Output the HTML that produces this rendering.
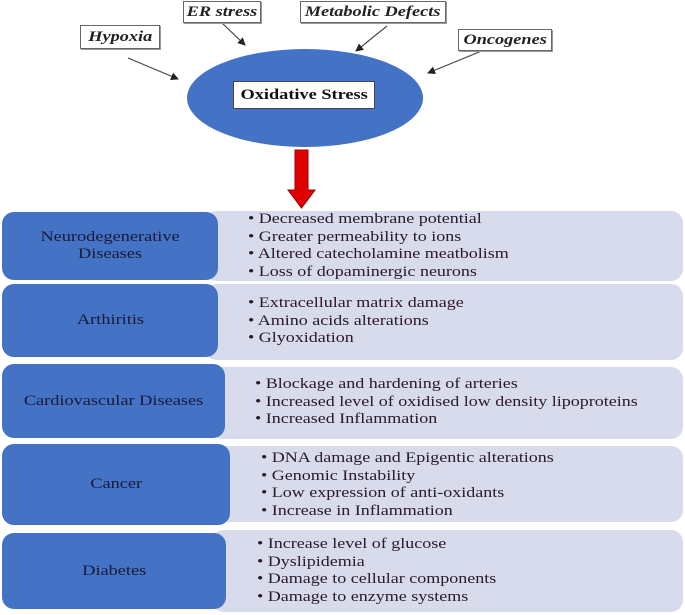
<!DOCTYPE html>
<html><head><style>
body{margin:0;width:685px;height:615px;background:#fff;position:relative;overflow:hidden;font-family:"Liberation Serif",serif;}
.a{position:absolute;}
.s{display:inline-block;transform:scaleX(1.22);transform-origin:center;}
.L{position:absolute;background:#4472C4;border-radius:12px;display:flex;align-items:center;justify-content:center;text-align:center;color:#1a1a3a;font-size:15px;line-height:17px;}
.R{position:absolute;background:#D8DBEB;border-radius:12px;}
.R div{position:absolute;font-size:15px;line-height:17.5px;color:#2a1a2a;white-space:nowrap;transform:scaleX(1.2);transform-origin:left top;}
.lb{position:absolute;border:1.5px solid #666;box-shadow:1px 1px 0 #999;background:#fff;font-weight:bold;font-style:italic;font-size:15px;text-align:center;color:#222;white-space:nowrap;}
</style></head><body>
<svg class="a" style="left:0;top:0" width="685" height="215">
<defs><marker id="m" markerWidth="8" markerHeight="8" refX="7" refY="4" orient="auto" markerUnits="userSpaceOnUse"><path d="M0,0L8,4L0,8z" fill="#222"/></marker></defs>
<ellipse cx="305" cy="98" rx="118" ry="49" fill="#4472C4"/>
<g stroke="#444" stroke-width="1.2" marker-end="url(#m)">
<line x1="128" y1="58" x2="178" y2="79"/>
<line x1="222" y1="23" x2="245" y2="45"/>
<line x1="387" y1="26" x2="356" y2="51"/>
<line x1="484" y1="50" x2="428" y2="73"/>
</g>
<path d="M295,150H308V190H315L301.5,208L288,190H295Z" fill="#e00000" stroke="#900" stroke-width="1"/>
</svg>
<div class="lb" style="left:80px;top:25px;width:78px;height:22px;line-height:22px"><span class="s">Hypoxia</span></div>
<div class="lb" style="left:183px;top:1px;width:76px;height:20px;line-height:20px"><span class="s">ER stress</span></div>
<div class="lb" style="left:300px;top:1px;width:144px;height:20px;line-height:20px"><span class="s">Metabolic Defects</span></div>
<div class="lb" style="left:458px;top:29px;width:92px;height:20px;line-height:20px"><span class="s">Oncogenes</span></div>
<div class="a" style="left:233px;top:81px;width:140px;height:26px;background:#fff;border:1.5px solid #444;font-weight:bold;font-size:15px;line-height:26px;text-align:center;color:#111;white-space:nowrap"><span class="s">Oxidative Stress</span></div>

<div class="R" style="left:205px;top:211px;width:478px;height:70px"><div style="left:43px;top:0">•  Decreased membrane potential<br>•  Greater permeability to ions<br>•  Altered catecholamine meatbolism<br>•  Loss of dopaminergic neurons</div></div>
<div class="L" style="left:2px;top:212px;width:216px;height:68px"><span class="s">Neurodegenerative<br>Diseases</span></div>

<div class="R" style="left:205px;top:284px;width:478px;height:76px"><div style="left:43px;top:11px">•  Extracellular matrix damage<br>•  Amino acids alterations<br>•  Glyoxidation</div></div>
<div class="L" style="left:2px;top:284px;width:216px;height:73px"><span class="s">Arthiritis</span></div>

<div class="R" style="left:210px;top:367px;width:473px;height:72px"><div style="left:45px;top:9px">•  Blockage and hardening of arteries<br>•  Increased level of oxidised low density lipoproteins<br>•  Increased Inflammation</div></div>
<div class="L" style="left:2px;top:364px;width:223px;height:74px"><span class="s">Cardiovascular Diseases</span></div>

<div class="R" style="left:215px;top:446px;width:468px;height:76px"><div style="left:46px;top:4px">•  DNA damage and Epigentic alterations<br>•  Genomic Instability<br>•  Low expression of anti-oxidants<br>•  Increase in Inflammation</div></div>
<div class="L" style="left:2px;top:444px;width:228px;height:81px"><span class="s">Cancer</span></div>

<div class="R" style="left:212px;top:530px;width:471px;height:82px"><div style="left:45px;top:6px">•  Increase level of glucose<br>•  Dyslipidemia<br>•  Damage to cellular components<br>•  Damage to enzyme systems</div></div>
<div class="L" style="left:2px;top:533px;width:224px;height:76px"><span class="s">Diabetes</span></div>
</body></html>
